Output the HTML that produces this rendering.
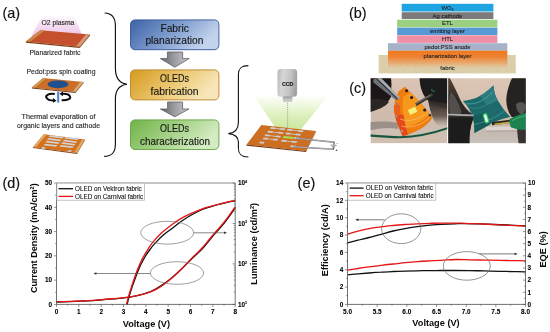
<!DOCTYPE html>
<html>
<head>
<meta charset="utf-8">
<title>OLEDs on fabric</title>
<style>
html,body{margin:0;padding:0;background:#fff;}
body{width:550px;height:332px;overflow:hidden;}
svg{display:block;}
text{font-family:"Liberation Sans",sans-serif;fill:#222;}
.lbl{font-size:14.4px;fill:#111;stroke:#111;stroke-width:0.15px;}
.sm{font-size:7px;fill:#262626;stroke:#262626;stroke-width:0.12px;}
.box{font-size:10px;fill:#161616;stroke:#161616;stroke-width:0.12px;}
.lay{font-size:5.9px;fill:#222;stroke:#222;stroke-width:0.1px;}
.tick{font-size:6.4px;font-weight:bold;fill:#000;stroke:#000;stroke-width:0.08px;}
.ax{font-size:9.2px;font-weight:bold;fill:#0a0a0a;}
.leg{font-size:6.3px;fill:#0c0c0c;stroke:#0c0c0c;stroke-width:0.08px;}
</style>
</head>
<body>
<svg width="550" height="332" viewBox="0 0 550 332">
<defs>
<linearGradient id="gBlue" x1="0" y1="0" x2="1" y2="0.35">
<stop offset="0" stop-color="#3c62a6"/><stop offset="0.55" stop-color="#7f9dcf"/><stop offset="1" stop-color="#c3d3ec"/>
</linearGradient>
<linearGradient id="gOr" x1="0" y1="0" x2="1" y2="0.35">
<stop offset="0" stop-color="#d59a1c"/><stop offset="0.55" stop-color="#ebc66f"/><stop offset="1" stop-color="#f8e6b8"/>
</linearGradient>
<linearGradient id="gGr" x1="0" y1="0" x2="1" y2="0.35">
<stop offset="0" stop-color="#6fb347"/><stop offset="0.55" stop-color="#a5d287"/><stop offset="1" stop-color="#d4ecc2"/>
</linearGradient>
<linearGradient id="gArr" x1="0" y1="0" x2="1" y2="0">
<stop offset="0" stop-color="#5e626a"/><stop offset="0.5" stop-color="#9c9ea2"/><stop offset="1" stop-color="#cbcbcd"/>
</linearGradient>
<linearGradient id="gPlasma" x1="0" y1="0" x2="0" y2="1">
<stop offset="0" stop-color="#f0c8ea" stop-opacity="0"/><stop offset="0.35" stop-color="#eec2e8" stop-opacity="0.5"/><stop offset="1" stop-color="#e6aede" stop-opacity="0.95"/>
</linearGradient>
<linearGradient id="gCone" x1="0" y1="0" x2="0" y2="1">
<stop offset="0" stop-color="#dcf0bc" stop-opacity="0"/><stop offset="0.12" stop-color="#dcf0bc" stop-opacity="0.3"/><stop offset="0.4" stop-color="#d6edb0" stop-opacity="0.85"/><stop offset="0.65" stop-color="#cde8a0" stop-opacity="1"/><stop offset="1" stop-color="#c8e69a" stop-opacity="1"/>
</linearGradient>
<linearGradient id="gCam" x1="0" y1="0" x2="1" y2="0.15">
<stop offset="0" stop-color="#b4b4b6"/><stop offset="0.3" stop-color="#d6d6d8"/><stop offset="0.7" stop-color="#c4c4c6"/><stop offset="1" stop-color="#a2a2a4"/>
</linearGradient>
<linearGradient id="gLens" x1="0" y1="0" x2="0" y2="1">
<stop offset="0" stop-color="#8e8e90"/><stop offset="0.35" stop-color="#b8b8ba"/><stop offset="1" stop-color="#d2d2d4"/>
</linearGradient>
<linearGradient id="gPlan" x1="0" y1="0" x2="0" y2="1">
<stop offset="0" stop-color="#f07a1e"/><stop offset="0.36" stop-color="#ee8232"/><stop offset="0.7" stop-color="#eba060" stop-opacity="0.75"/><stop offset="1" stop-color="#e7b98a" stop-opacity="0"/>
</linearGradient>
<filter id="blur1" x="-5%" y="-5%" width="110%" height="110%"><feGaussianBlur stdDeviation="0.6"/></filter>
<filter id="blur2" x="-5%" y="-5%" width="110%" height="110%"><feGaussianBlur stdDeviation="1.1"/></filter>
<clipPath id="cpL"><rect x="370.6" y="78.3" width="76.6" height="64.9"/></clipPath>
<clipPath id="cpR"><rect x="448.2" y="78.3" width="77.6" height="64.9"/></clipPath>
</defs>
<rect x="0" y="0" width="550" height="332" fill="#ffffff"/>

<!-- ================= PANEL A ================= -->
<g id="panelA">
<text class="lbl" x="2.5" y="18">(a)</text>

<!-- O2 plasma -->
<polygon points="42.3,15 73.7,15 82.6,36 29,41" fill="url(#gPlasma)"/>
<polygon points="25.9,41.6 40.3,30.3 90,34.6 79.8,46.8" fill="#c5502d"/>
<polygon points="25.9,41.6 40.3,30.3 44.3,30.65 29.9,41.95" fill="#c98a48"/>
<polygon points="86,34.25 90,34.6 79.8,46.8 75.8,46.45" fill="#d39a78"/>
<polygon points="25.9,41.6 79.8,46.8 79.8,48 25.9,42.8" fill="#7e3e14"/>
<polygon points="79.8,46.8 90,34.6 90,35.8 79.8,48" fill="#8e4e1e"/>
<text class="sm" x="57.9" y="25" text-anchor="middle" textLength="33" lengthAdjust="spacingAndGlyphs">O2 plasma</text>
<text class="sm" x="55" y="55.4" text-anchor="middle" textLength="51" lengthAdjust="spacingAndGlyphs">Planarized fabric</text>

<!-- spin coating -->
<text class="sm" x="61" y="74" text-anchor="middle" textLength="69" lengthAdjust="spacingAndGlyphs">Pedot:pss spin coating</text>
<polygon points="31.8,87.4 42.9,78.1 83.6,81.9 75.5,92" fill="#c96f28"/>
<polygon points="31.8,87.4 42.9,78.1 45.9,78.4 34.8,87.75" fill="#d39c58"/>
<polygon points="80.6,81.6 83.6,81.9 75.5,92 72.5,91.65" fill="#d9a878"/>
<polygon points="31.8,87.4 75.5,92 75.5,93 31.8,88.4" fill="#7a3a12"/>
<polygon points="75.5,92 83.6,81.9 83.6,82.9 75.5,93" fill="#8a4a1a"/>
<ellipse cx="58" cy="84.3" rx="10.4" ry="3.9" fill="#1f4f8c"/>
<rect x="57.2" y="91.6" width="2" height="11" fill="#4a80d8"/>
<path d="M54.8,94 C47.6,93.2 45.4,95.8 46.4,97.6 C47.4,99.6 50.6,100.6 53.6,100.6" fill="none" stroke="#0c0c0c" stroke-width="2"/>
<polygon points="53,98 56.6,100.8 53,102.8" fill="#0c0c0c"/>
<path d="M61.6,100.2 C68.6,100.4 71,98.4 70,96.4 C69,94.4 65.4,93.6 62.2,93.8" fill="none" stroke="#0c0c0c" stroke-width="2"/>
<polygon points="63,91.4 59.4,93.8 63,96.2" fill="#0c0c0c"/>

<!-- thermal evaporation -->
<text class="sm" x="58.5" y="118.8" text-anchor="middle" textLength="74" lengthAdjust="spacingAndGlyphs">Thermal evaporation of</text>
<text class="sm" x="58.5" y="128.2" text-anchor="middle" textLength="83" lengthAdjust="spacingAndGlyphs">organic layers and cathode</text>
<polygon points="33.1,146.9 43.8,134.3 84.9,139.6 77,153.1" fill="#d4721c"/>
<polygon points="33.1,146.9 43.8,134.3 46.6,134.7 35.9,147.3" fill="#dfa868"/>
<polygon points="82.1,139.2 84.9,139.6 77,153.1 74.2,152.7" fill="#dfa868"/>
<polygon points="33.1,146.9 77,153.1 77,154.1 33.1,147.9" fill="#8a4614"/>
<polygon points="77,153.1 84.9,139.6 84.9,140.6 77,154.1" fill="#9a5a20"/>
<g fill="#d2d2d6">
<polygon points="50.1,135.2 63.7,136.9 62.3,138.4 48.7,136.7"/>
<polygon points="48.4,138.0 61.4,139.7 60.0,141.2 47.0,139.5"/>
<polygon points="46.7,140.8 59.7,142.5 58.3,144.0 45.3,142.3"/>
<polygon points="45.0,143.7 57.4,145.2 56.0,146.7 43.6,145.2"/>
<polygon points="42.2,147.0 45.6,147.5 44.2,149.0 40.8,148.5"/>
<polygon points="65.9,136.9 78.9,138.6 77.5,140.1 64.5,138.4"/>
<polygon points="64.2,139.7 77.2,141.4 75.8,142.9 62.8,141.2"/>
<polygon points="62.5,142.3 75.5,144.0 74.1,145.5 61.1,143.8"/>
<polygon points="60.8,144.9 73.8,146.6 72.4,148.1 59.4,146.4"/>
<polygon points="68.7,149.9 72.1,150.4 70.7,151.9 67.3,151.4"/>
</g>

<!-- left brace -->
<path d="M104.7,13 C112,13.2 115.4,17 115.4,26 L115.4,68 C115.4,77.5 119,83.2 127,84.2 C119,85.2 115.4,90 115.4,99 L115.4,144 C115.4,152.6 112,156.2 104.2,156.4" fill="none" stroke="#111" stroke-width="1.15"/>

<!-- flow boxes -->
<rect x="130.5" y="19.9" width="88.4" height="29.8" rx="4.5" fill="url(#gBlue)" stroke="#33559a" stroke-width="0.9"/>
<text class="box" x="174.6" y="31.8" text-anchor="middle" textLength="28.4" lengthAdjust="spacingAndGlyphs">Fabric</text>
<text class="box" x="174.4" y="44.2" text-anchor="middle" textLength="58" lengthAdjust="spacingAndGlyphs">planarization</text>
<polygon points="167.4,52 182.6,52 182.6,58.6 189.2,58.6 174.8,67.2 160.4,58.6 167.4,58.6" fill="url(#gArr)" stroke="#4e5056" stroke-width="0.7"/>
<rect x="130.5" y="69.9" width="88.4" height="30" rx="4.5" fill="url(#gOr)" stroke="#b9822a" stroke-width="0.9"/>
<text class="box" x="174.4" y="81.8" text-anchor="middle" textLength="29" lengthAdjust="spacingAndGlyphs">OLEDs</text>
<text class="box" x="174.6" y="94.6" text-anchor="middle" textLength="48" lengthAdjust="spacingAndGlyphs">fabrication</text>
<polygon points="167.6,102 182.6,102 182.6,109 189,109 174.8,116.8 160.4,109 167.6,109" fill="url(#gArr)" stroke="#4e5056" stroke-width="0.7"/>
<rect x="130.5" y="119.9" width="88.4" height="29.6" rx="4.5" fill="url(#gGr)" stroke="#62a042" stroke-width="0.9"/>
<text class="box" x="174.4" y="131.8" text-anchor="middle" textLength="29" lengthAdjust="spacingAndGlyphs">OLEDs</text>
<text class="box" x="175" y="144.6" text-anchor="middle" textLength="70" lengthAdjust="spacingAndGlyphs">characterization</text>

<!-- right brace -->
<path d="M248.4,65.6 C241.5,65.6 238.4,68 238.4,75 L238.4,122 C238.4,129 235,133 228.4,133.6 C235,134.2 238.4,137.4 238.4,142 L238.4,148 C238.4,154.6 241.5,157 248.4,157" fill="none" stroke="#111" stroke-width="1.1"/>

<!-- CCD setup -->
<polygon points="253.5,95 328.5,95 287.6,146" fill="url(#gCone)"/>
<rect x="277.5" y="68.9" width="19.6" height="27.8" rx="3.2" fill="url(#gCam)"/>
<rect x="282.8" y="96.4" width="9.6" height="5.6" rx="0.8" fill="url(#gLens)"/>
<text x="287.7" y="85.5" text-anchor="middle" style="font-size:5.3px;font-weight:bold;fill:#1a1a1a;stroke:#1a1a1a;stroke-width:0.15px">CCD</text>
<line x1="287.6" y1="102.6" x2="287.6" y2="129" stroke="#8e8e8e" stroke-width="0.8" stroke-dasharray="1.1,1.1"/>
<polygon points="246.5,144.5 261.4,125.1 315.9,130.9 306,150.9" fill="#cc6f22"/>
<polygon points="246.5,144.5 306,150.9 306,152.1 246.5,145.7" fill="#7a3a12"/>
<polygon points="306,150.9 315.9,130.9 315.9,132.1 306,152.1" fill="#8a4a1a"/>
<g fill="#cdcdd2">
<polygon points="270.9,127.1 275.6,127.6 274.7,129.3 270.1,128.8"/><polygon points="275.1,128.0 280.8,128.6 280.4,129.4 274.7,128.8"/><polygon points="280.8,128.1 285.4,128.6 284.6,130.3 279.9,129.8"/>
<polygon points="287.6,128.8 292.7,129.3 291.9,131.0 286.8,130.5"/><polygon points="292.2,129.8 298.6,130.4 298.2,131.2 291.8,130.6"/><polygon points="298.5,130.0 303.6,130.5 302.8,132.2 297.7,131.7"/>
<polygon points="268.1,130.7 273.1,131.3 272.2,133.0 267.3,132.4"/><polygon points="272.5,131.7 278.8,132.3 278.4,133.1 272.1,132.5"/><polygon points="278.7,131.8 283.6,132.4 282.8,134.1 277.8,133.5"/>
<polygon points="286.3,132.6 291.0,133.1 290.1,134.8 285.5,134.3"/><polygon points="290.5,133.5 296.3,134.1 295.9,134.9 290.1,134.3"/><polygon points="296.3,133.6 300.9,134.1 300.1,135.8 295.4,135.3"/>
<polygon points="265.4,134.3 270.4,134.9 269.5,136.6 264.6,136.0"/><polygon points="269.8,135.3 276.1,135.9 275.7,136.7 269.4,136.1"/><polygon points="276.0,135.4 280.9,136.0 280.1,137.7 275.1,137.1"/>
<polygon points="263.6,137.5 268.3,138.0 267.4,139.7 262.8,139.2"/><polygon points="267.8,138.4 273.5,139.0 273.1,139.8 267.4,139.2"/><polygon points="273.5,138.5 278.1,139.0 277.3,140.7 272.6,140.2"/>
<polygon points="281.8,139.7 286.8,140.3 285.9,142.0 281.0,141.4"/><polygon points="286.2,140.7 292.4,141.3 292.0,142.1 285.8,141.5"/><polygon points="292.3,140.8 297.2,141.4 296.4,143.1 291.4,142.5"/>
<polygon points="259.9,141.6 264.5,142.1 263.7,143.8 259.1,143.3"/>
<polygon points="290.9,145.3 296.3,145.8 295.5,147.5 290.1,147.0"/>
<polygon points="294.4,137.1 299.0,137.6 298.2,139.3 293.6,138.8"/>
</g>
<polygon points="283.8,135.9 293.9,136.9 292.8,139.1 282.6,138.1" fill="#a6e052"/>
<path d="M296,138.2 L334.1,142.2 L333.4,149.2 L292.8,146.7" fill="none" stroke="#74747a" stroke-width="1.5"/>
<path d="M296,138.2 L334.1,142.2 M333.4,149.2 L292.8,146.7" fill="none" stroke="#d4d4da" stroke-width="0.6"/>
<rect x="331" y="144.6" width="5.4" height="2.4" fill="#fff"/>
<path d="M330.6,145 L336.6,145.4 M331.8,146.6 L335.2,146.8" fill="none" stroke="#444" stroke-width="0.6"/>
<text x="336.4" y="144.2" style="font-size:3.4px;font-weight:bold;fill:#222">-</text>
<text x="335.4" y="151" style="font-size:3.8px;font-weight:bold;fill:#222">+</text>
</g>

<g id="panelB">
<text class="lbl" x="349" y="17.7">(b)</text>
<filter id="noise" x="0" y="0" width="100%" height="100%">
<feTurbulence type="fractalNoise" baseFrequency="0.9" numOctaves="2" seed="3" result="n"/>
<feColorMatrix in="n" type="matrix" values="0 0 0 0 0.45  0 0 0 0 0.38  0 0 0 0 0.25  0 0 0 1.6 -0.75"/>
<feComposite operator="in" in2="SourceGraphic"/>
</filter>
<rect x="378.7" y="55" width="137" height="18.4" fill="#ddd0ab"/>
<rect x="378.7" y="55" width="137" height="18.4" fill="#ddd0ab" filter="url(#noise)" opacity="0.55"/>
<rect x="388" y="50.3" width="119.3" height="18.6" fill="url(#gPlan)"/>
<rect x="401.7" y="3.8" width="91.7" height="7.7" fill="#1da4e1"/>
<rect x="401.7" y="12.2" width="91.7" height="6.8" fill="#7c7a7a"/>
<rect x="397.2" y="19.7" width="100.2" height="7.7" fill="#9bd083"/>
<rect x="397.2" y="27.7" width="100.2" height="7.3" fill="#5798d6"/>
<rect x="397.2" y="35.3" width="100.2" height="7.6" fill="#ef8fa6"/>
<rect x="388" y="43.2" width="119.3" height="7.3" fill="#a6b2ca"/>
<text class="lay" x="447.5" y="9.6" text-anchor="middle">WO<tspan font-size="3.6" dy="1">3</tspan></text>
<text class="lay" x="447.5" y="17.6" text-anchor="middle">Ag cathode</text>
<text class="lay" x="447.5" y="25.3" text-anchor="middle">ETL</text>
<text class="lay" x="447.5" y="33.2" text-anchor="middle">emitting layer</text>
<text class="lay" x="447.5" y="41" text-anchor="middle">HTL</text>
<text class="lay" x="447.5" y="48.8" text-anchor="middle">pedot:PSS anode</text>
<text class="lay" x="447.5" y="57.6" text-anchor="middle">planarization layer</text>
<text class="lay" x="447.5" y="70.2" text-anchor="middle">fabric</text>
</g>

<g id="panelC">
<text class="lbl" x="349.2" y="92.7">(c)</text>
<linearGradient id="gBgL" x1="0" y1="0" x2="0" y2="1">
<stop offset="0" stop-color="#dcc4b4"/><stop offset="0.55" stop-color="#cfbaab"/><stop offset="0.8" stop-color="#cdbfb4"/><stop offset="1" stop-color="#d2bfae"/>
</linearGradient>
<linearGradient id="gBgR" x1="0" y1="0" x2="0" y2="1">
<stop offset="0" stop-color="#dec6b6"/><stop offset="0.6" stop-color="#d0bbac"/><stop offset="0.85" stop-color="#c4bab2"/><stop offset="1" stop-color="#c8c2bc"/>
</linearGradient>
<!-- left photo -->
<g clip-path="url(#cpL)">
<rect x="370.4" y="78" width="77" height="65.4" fill="url(#gBgL)"/>
<g filter="url(#blur1)">
<path d="M368,122.5 C380,121 392,121.5 398,123 L398,129 C388,127 378,128.5 368,131 Z" fill="#8d8580" opacity="0.8"/>
<path d="M368,76 L390.4,76 C392.6,84 390.6,91 391,97 C387,105 378,110 368,112.5 Z" fill="#1b1918"/>
<path d="M368,100 C376,98 384,99 389,102 C385,107 378,110 368,112 Z" fill="#2c2826"/>
<path d="M419.6,76 L450,76 L450,109 C441,108.6 432,105 426.6,99 C421.6,93 419.4,85 419.6,76 Z" fill="#1d1b1a"/>
<linearGradient id="gShd" x1="0" y1="0" x2="0" y2="1"><stop offset="0" stop-color="#2a2422"/><stop offset="0.6" stop-color="#5a4c44" stop-opacity="0.85"/><stop offset="1" stop-color="#8a7a70" stop-opacity="0"/></linearGradient>
<path d="M428,100 L450,104 L450,127 L438,126 C434,122 431,116 428,100 Z" fill="url(#gShd)"/>
<path d="M431,89.6 L434.6,91.6" stroke="#1a6a50" stroke-width="1.6"/>
<path d="M368,135.4 C380,136.4 392,137.2 400,137.2 C415,137 432,133.6 450,127.4" fill="none" stroke="#18553f" stroke-width="2.1"/>
<path d="M398.4,91.4 L404.8,86.8 C414,95 424,106 432.4,117.3 C430,123.4 420,131.4 402.8,136.3 C399,128 396,121 395.2,116.1 C393.8,110 393.8,106 394.2,105.5 C395,100 396.4,95 398.4,91.4 Z" fill="#ef7d10"/>
<path d="M403,97 L410,92.6 C417,99 423,106 429,114.6 C425,120 416,124.4 406,127.2 C403,118 402,107 403,97 Z" fill="#f6981c"/>
<path d="M395.2,116.1 C398,114.5 401,114 403.5,115 C404.5,122 406,129 408,134.6 L402.8,136.3 C399,128 396,121 395.2,116.1 Z" fill="#e24a1a"/>
<path d="M394.2,105.5 C396,104 398,104 400,105.5 C400,109 400,112 400.5,114.5 C398.5,114.4 396.6,115 395.2,116.1 C393.8,110 393.8,106 394.2,105.5 Z" fill="#e8601a"/>
<path d="M400,119 C409,122.5 420,119.5 429,111.5" fill="none" stroke="#f9b868" stroke-width="0.8"/>
<path d="M401.5,126 C411,129 423,125 431.4,116" fill="none" stroke="#f9b868" stroke-width="0.8"/>
<polygon points="373.4,79.4 376.4,78.2 398,98.6 396.4,100.4 373.4,82.4" fill="#6c727a"/>
<polygon points="377,78.2 381.4,78.2 400,97.2 398.4,99" fill="#a6aab0"/>
<path d="M376.4,78.8 L397.8,99" stroke="#1e1e1e" stroke-width="1"/>
<path d="M432.4,94.4 L415.8,104.4" stroke="#45453c" stroke-width="2.4"/>
<path d="M432.8,95.8 L416.4,105.6" stroke="#26261f" stroke-width="0.9"/>
<path d="M430,95 L416,103.4" stroke="#9a9a8c" stroke-width="0.6"/>
<circle cx="406.6" cy="90.8" r="1.5" fill="#1c1c1c"/><circle cx="411.6" cy="97.6" r="1.6" fill="#1c1c1c"/>
<circle cx="424.6" cy="110" r="1.5" fill="#1c1c1c"/><circle cx="430" cy="115.2" r="1.3" fill="#333"/>
<circle cx="397" cy="104" r="1" fill="#8a8a8a"/><circle cx="396.6" cy="116.6" r="1" fill="#9a9a9a"/><circle cx="402" cy="131" r="1.1" fill="#aaa"/>
<rect x="408.6" y="108" width="8" height="5.6" rx="0.8" fill="#f2f07a" transform="rotate(-26 412.6 110.8)"/>
</g>
</g>
<!-- right photo -->
<g clip-path="url(#cpR)">
<rect x="448.4" y="78" width="78" height="65.4" fill="url(#gBgR)"/>
<g filter="url(#blur1)">
<path d="M486,126.8 L519.6,126.4 L519.6,130.4 L486,130.8 Z" fill="#ddd5d0"/>
<path d="M486,131.2 L519.6,130.8" stroke="#a39a94" stroke-width="0.9"/>
<linearGradient id="gCone2" x1="0" y1="0" x2="0" y2="1"><stop offset="0" stop-color="#5a463a"/><stop offset="0.35" stop-color="#2f2a27"/><stop offset="1" stop-color="#232120"/></linearGradient>
<path d="M446,76 L448.4,76 C452,82 455.4,88.6 458.4,95.6 C461.6,103.6 466,110 473.6,115 L473.6,118.4 C471,124 468.6,132 469.6,146 L446,146 Z" fill="url(#gCone2)"/>
<path d="M451,92 C455,96 458.6,103 461,110 C462,113 461,114.4 458,114.4 L450,114 C448.6,108 448.6,98 451,92 Z" fill="#5c5856" opacity="0.8"/>
<path d="M446,118.6 C456,117.6 466,117.6 473,118.6 C470.6,126 469,134 469.6,146 L446,146 Z" fill="#1d1b1a"/>
<path d="M513,76 L530,76 L530,118.6 L511.6,117 C507,110.6 505.6,103 506.6,96 C507.6,89 509.8,82 513,76 Z" fill="#252322"/>
<path d="M516,104 C519,101.6 523,101.6 525,104 C526,108 525,112.6 522,114.6 C518,113.6 516,109 516,104 Z" fill="#6a6664" opacity="0.75"/>
<path d="M517,128 L530,129 L530,146 L519,146 C518,140 517.4,134 517,128 Z" fill="#373331"/>
<path d="M493.5,85.5 C494,92 495.4,96.6 497.7,100.3 C501,106 505.6,112 510.3,117.1 C503,118.6 496.6,120.6 491.4,123.5 C485,127 479.6,130 474.5,133 C474.6,127 474,121.6 472.4,116.1 C470.6,110.6 467.4,105.4 462.9,100.9 C469,100.4 474.6,98.8 479.8,96 C485,93 489.6,89.4 493.5,85.5 Z" fill="#1d6a6c"/>
<path d="M493.5,85.5 C494,92 495.4,96.6 497.7,100.3 C494,103 490,104.6 486,105 C484.6,101.6 482.6,98.6 479.8,96 C485,93 489.6,89.4 493.5,85.5 Z" fill="#2c7c7e"/>
<path d="M472.4,116.1 C477,115.4 481,114.2 484.6,112.4 C486,118 487.6,122 490,124.4 C485,127 479.6,130 474.5,133 C474.6,127 474,121.6 472.4,116.1 Z" fill="#155c5a"/>
<path d="M466,103.6 C474,105 484,101.6 492.6,92" fill="none" stroke="#5aaaa4" stroke-width="0.7"/>
<path d="M474,124.6 C486,122 498,116.6 505,110.6" fill="none" stroke="#4d9c98" stroke-width="0.7"/>
<path d="M470,108 C478,109.6 488,106 496,98" fill="none" stroke="#3f908c" stroke-width="0.6"/>
<path d="M448,114.6 L473.6,115.4" stroke="#b0aeac" stroke-width="1.7"/>
<path d="M448,116.2 L473,116.9" stroke="#363432" stroke-width="0.8"/>
<path d="M492,123.6 L510.6,121.4" stroke="#2a2620" stroke-width="3.2"/>
<path d="M494.6,124.2 L510.6,122.4" stroke="#c8ae48" stroke-width="1.6"/>
<path d="M509.6,119 C512,117.4 516,115.6 520,114.4 L530,111.8 L530,130 L518,129.6 L511.2,127.6 C509.6,125 509.2,122 509.6,119 Z" fill="#1d8250"/>
<path d="M512,120.6 C517,118 523,116 530,114.6" fill="none" stroke="#4cae74" stroke-width="1"/>
<rect x="483.6" y="113" width="4.8" height="10.6" rx="2.2" fill="#36d062" opacity="0.85" transform="rotate(-17 486 118.3)"/>
<rect x="484.8" y="114.4" width="2.4" height="7.8" rx="1.2" fill="#f0fff0" transform="rotate(-17 486 118.3)"/>
</g>
</g>
</g>

<g id="panelD">
<text class="lbl" x="2.5" y="188">(d)</text>
<line x1="56.5" y1="183.0" x2="235.2" y2="183.0" stroke="#8c8c8c" stroke-width="1.1"/>
<path d="M56.5,302.0 C60.4,301.9 72.8,301.5 80.0,301.2 C87.2,300.9 94.2,300.4 100.0,300.0 C105.8,299.6 110.3,299.2 115.0,298.8 C119.7,298.4 124.4,297.9 128.1,297.4 C131.8,296.9 134.1,296.4 137.1,295.7 C140.1,295.0 143.1,294.3 146.1,293.2 C149.1,292.1 152.2,290.8 155.2,289.2 C158.2,287.6 161.2,285.7 164.2,283.6 C167.2,281.5 170.3,279.0 173.3,276.4 C176.3,273.8 179.3,271.1 182.3,268.2 C185.3,265.3 188.2,262.1 191.3,259.2 C194.4,256.3 198.0,253.2 200.6,250.6 C203.2,248.0 204.6,246.2 206.8,243.6 C209.0,241.0 211.6,237.6 213.6,235.2 C215.6,232.8 217.2,231.3 219.0,229.2 C220.8,227.1 222.7,225.1 224.5,222.8 C226.3,220.5 228.0,218.1 229.8,215.6 C231.6,213.1 234.3,208.9 235.2,207.6" fill="none" stroke="#111" stroke-width="1.3"/>
<path d="M56.5,301.8 C60.4,301.7 72.8,301.3 80.0,301.0 C87.2,300.7 94.2,300.2 100.0,299.8 C105.8,299.4 110.3,299.0 115.0,298.6 C119.7,298.2 124.4,297.7 128.1,297.2 C131.8,296.7 134.1,296.2 137.1,295.6 C140.1,295.0 143.1,294.4 146.1,293.4 C149.1,292.4 152.2,291.3 155.2,289.8 C158.2,288.3 161.2,286.4 164.2,284.2 C167.2,282.0 170.3,279.5 173.3,276.8 C176.3,274.1 179.3,271.2 182.3,268.2 C185.3,265.2 188.3,261.7 191.3,258.6 C194.3,255.5 197.9,252.4 200.4,249.8 C202.9,247.2 204.4,245.4 206.5,242.9 C208.6,240.4 211.2,237.0 213.2,234.6 C215.2,232.2 216.8,230.7 218.6,228.6 C220.4,226.5 222.3,224.4 224.1,222.2 C225.9,219.9 227.6,217.6 229.4,215.1 C231.2,212.6 234.2,208.3 235.2,206.9" fill="none" stroke="#e81313" stroke-width="1.3"/>
<path d="M127.2,304.3 C127.5,303.2 127.9,300.8 128.8,297.6 C129.7,294.5 131.1,289.9 132.7,285.4 C134.3,280.9 136.4,274.8 138.2,270.4 C140.0,266.0 141.7,262.6 143.6,259.2 C145.5,255.8 147.7,252.6 149.6,250.0 C151.5,247.4 152.6,245.9 154.9,243.4 C157.2,240.9 160.6,237.4 163.6,234.8 C166.6,232.2 169.7,230.2 172.7,227.9 C175.7,225.6 178.8,223.1 181.8,221.0 C184.8,218.9 187.3,217.2 190.9,215.2 C194.5,213.2 199.3,210.7 203.6,209.0 C207.8,207.3 212.7,206.1 216.4,205.0 C220.1,203.9 222.9,203.3 226.0,202.6 C229.1,201.9 233.7,201.1 235.2,200.8" fill="none" stroke="#111" stroke-width="1.3"/>
<path d="M126.6,304.3 C126.9,303.2 127.3,300.8 128.2,297.6 C129.1,294.4 130.5,289.8 132.0,285.2 C133.5,280.6 135.6,274.5 137.3,270.0 C139.1,265.5 140.7,261.9 142.5,258.4 C144.3,254.9 146.4,251.6 148.2,248.8 C150.0,246.0 150.9,244.4 153.1,241.8 C155.3,239.2 158.5,235.7 161.4,233.0 C164.3,230.3 167.4,228.1 170.4,225.8 C173.4,223.5 176.4,221.3 179.6,219.4 C182.8,217.5 185.7,216.0 189.6,214.2 C193.5,212.4 198.5,210.2 203.0,208.6 C207.5,207.0 212.6,205.8 216.4,204.8 C220.2,203.8 222.9,203.1 226.0,202.4 C229.1,201.7 233.7,200.9 235.2,200.6" fill="none" stroke="#e81313" stroke-width="1.3"/>
<path d="M56.5,183.0 L56.5,304.4 L235.2,304.4 L235.2,183.0" fill="none" stroke="#4d4d4d" stroke-width="0.8"/>
<path d="M56.5,304.4 v2.6 M67.7,304.4 v1.4 M78.8,304.4 v2.6 M90.0,304.4 v1.4 M101.2,304.4 v2.6 M112.3,304.4 v1.4 M123.5,304.4 v2.6 M134.7,304.4 v1.4 M145.8,304.4 v2.6 M157.0,304.4 v1.4 M168.2,304.4 v2.6 M179.4,304.4 v1.4 M190.5,304.4 v2.6 M201.7,304.4 v1.4 M212.9,304.4 v2.6 M224.0,304.4 v1.4 M235.2,304.4 v2.6 M56.5,304.4 h-2.6 M56.5,292.3 h-1.4 M56.5,280.1 h-2.6 M56.5,268.0 h-1.4 M56.5,255.8 h-2.6 M56.5,243.7 h-1.4 M56.5,231.6 h-2.6 M56.5,219.4 h-1.4 M56.5,207.3 h-2.6 M56.5,195.1 h-1.4 M56.5,183.0 h-2.6 M235.2,304.4 h-2.6 M235.2,292.2 h-1.4 M235.2,285.1 h-1.4 M235.2,280.0 h-1.4 M235.2,276.1 h-1.4 M235.2,272.9 h-1.4 M235.2,270.2 h-1.4 M235.2,267.9 h-1.4 M235.2,265.8 h-1.4 M235.2,263.9 h-2.6 M235.2,251.8 h-1.4 M235.2,244.6 h-1.4 M235.2,239.6 h-1.4 M235.2,235.6 h-1.4 M235.2,232.4 h-1.4 M235.2,229.7 h-1.4 M235.2,227.4 h-1.4 M235.2,225.3 h-1.4 M235.2,223.5 h-2.6 M235.2,211.3 h-1.4 M235.2,204.2 h-1.4 M235.2,199.1 h-1.4 M235.2,195.2 h-1.4 M235.2,192.0 h-1.4 M235.2,189.3 h-1.4 M235.2,186.9 h-1.4 M235.2,184.9 h-1.4 M235.2,183.0 h-2.6" fill="none" stroke="#4d4d4d" stroke-width="0.6"/>
<text class="tick" x="56.5" y="313.5" text-anchor="middle">0</text>
<text class="tick" x="78.8" y="313.5" text-anchor="middle">1</text>
<text class="tick" x="101.2" y="313.5" text-anchor="middle">2</text>
<text class="tick" x="123.5" y="313.5" text-anchor="middle">3</text>
<text class="tick" x="145.8" y="313.5" text-anchor="middle">4</text>
<text class="tick" x="168.2" y="313.5" text-anchor="middle">5</text>
<text class="tick" x="190.5" y="313.5" text-anchor="middle">6</text>
<text class="tick" x="212.9" y="313.5" text-anchor="middle">7</text>
<text class="tick" x="235.2" y="313.5" text-anchor="middle">8</text>
<text class="tick" x="52.1" y="306.6" text-anchor="end">0</text>
<text class="tick" x="52.1" y="282.3" text-anchor="end">10</text>
<text class="tick" x="52.1" y="258.0" text-anchor="end">20</text>
<text class="tick" x="52.1" y="233.8" text-anchor="end">30</text>
<text class="tick" x="52.1" y="209.5" text-anchor="end">40</text>
<text class="tick" x="52.1" y="185.2" text-anchor="end">50</text>
<text class="tick" x="237.9" y="306.6">10<tspan font-size="3.7" dy="-2.6">1</tspan></text>
<text class="tick" x="237.9" y="266.1">10<tspan font-size="3.7" dy="-2.6">2</tspan></text>
<text class="tick" x="237.9" y="225.7">10<tspan font-size="3.7" dy="-2.6">3</tspan></text>
<text class="tick" x="237.9" y="185.2">10<tspan font-size="3.7" dy="-2.6">4</tspan></text>
<text class="ax" x="146.4" y="326.6" text-anchor="middle">Voltage (V)</text>
<text class="ax" transform="translate(36.9,238.2) rotate(-90)" text-anchor="middle" style="font-size:9.05px">Current Density (mA/cm<tspan font-size="5.6" dy="-3.2">2</tspan><tspan dy="3.2">)</tspan></text>
<text class="ax" transform="translate(257.3,243.8) rotate(-90)" text-anchor="middle">Luminance (cd/m<tspan font-size="5.6" dy="-3.2">2</tspan><tspan dy="3.2">)</tspan></text>
<rect x="56.9" y="183.2" width="87.6" height="17" fill="#fff" stroke="#b4b4b4" stroke-width="0.8"/>
<line x1="58.5" y1="188.7" x2="73.1" y2="188.7" stroke="#111" stroke-width="1.3"/>
<line x1="58.5" y1="196.4" x2="73.1" y2="196.4" stroke="#e81313" stroke-width="1.3"/>
<text class="leg" x="75" y="190.9" textLength="66.8" lengthAdjust="spacingAndGlyphs">OLED on Vektron fabric</text>
<text class="leg" x="75" y="198.5" textLength="68.2" lengthAdjust="spacingAndGlyphs">OLED on Carnival fabric</text>
<ellipse cx="167.2" cy="232.7" rx="26.4" ry="11.4" fill="none" stroke="#777" stroke-width="0.7"/>
<ellipse cx="177" cy="273" rx="26.6" ry="11.3" fill="none" stroke="#777" stroke-width="0.7"/>
<path d="M193.6,232.8 L225,232.8" stroke="#555" stroke-width="0.7"/><polygon points="224,231.6 227,232.8 224,234" fill="#333"/>
<path d="M150.4,273.5 L95,273.5" stroke="#555" stroke-width="0.7"/><polygon points="96.4,272.3 93.4,273.5 96.4,274.7" fill="#333"/>
</g>

<g id="panelE">
<text class="lbl" x="297.6" y="188">(e)</text>
<line x1="347.5" y1="183.0" x2="525.5" y2="183.0" stroke="#8c8c8c" stroke-width="1.1"/>
<path d="M347.5,242.8 C349.2,242.4 354.4,241.1 358.0,240.2 C361.6,239.3 365.3,238.5 369.1,237.5 C372.9,236.5 377.0,235.5 381.0,234.4 C385.0,233.3 389.2,232.0 393.2,231.0 C397.2,230.0 401.0,229.3 405.0,228.6 C409.0,227.9 413.1,227.3 417.3,226.7 C421.5,226.1 426.0,225.6 430.0,225.2 C434.0,224.8 437.2,224.5 441.4,224.3 C445.6,224.1 451.1,223.9 455.0,223.8 C458.9,223.7 460.8,223.6 465.0,223.6 C469.2,223.6 475.0,223.8 480.0,223.9 C485.0,224.1 490.0,224.3 495.0,224.5 C500.0,224.7 504.9,224.9 510.0,225.2 C515.1,225.4 522.9,225.9 525.5,226.0" fill="none" stroke="#111" stroke-width="1.3"/>
<path d="M347.5,234.2 C349.2,233.7 354.4,232.1 358.0,231.2 C361.6,230.3 365.3,229.3 369.1,228.6 C372.9,227.9 377.0,227.3 381.0,226.8 C385.0,226.3 389.2,225.9 393.2,225.5 C397.2,225.1 401.0,224.8 405.0,224.5 C409.0,224.2 413.1,224.0 417.3,223.8 C421.5,223.6 426.0,223.4 430.0,223.3 C434.0,223.2 437.2,223.1 441.4,223.1 C445.6,223.1 451.1,223.1 455.0,223.1 C458.9,223.1 460.8,223.2 465.0,223.3 C469.2,223.4 475.0,223.7 480.0,223.9 C485.0,224.1 490.0,224.4 495.0,224.6 C500.0,224.8 504.9,225.1 510.0,225.3 C515.1,225.5 522.9,225.9 525.5,226.0" fill="none" stroke="#e81313" stroke-width="1.3"/>
<path d="M347.5,274.9 C349.2,274.7 354.4,274.2 358.0,273.9 C361.6,273.6 365.3,273.3 369.1,273.0 C372.9,272.7 377.0,272.4 381.0,272.2 C385.0,271.9 389.2,271.7 393.2,271.5 C397.2,271.3 401.0,271.2 405.0,271.1 C409.0,271.0 413.1,270.9 417.3,270.8 C421.5,270.7 426.0,270.7 430.0,270.6 C434.0,270.6 437.2,270.5 441.4,270.5 C445.6,270.5 450.2,270.5 455.0,270.5 C459.8,270.5 465.0,270.5 470.0,270.6 C475.0,270.7 480.0,270.8 485.0,270.9 C490.0,271.0 495.5,271.2 500.0,271.3 C504.5,271.4 507.8,271.5 512.0,271.6 C516.2,271.7 523.2,271.8 525.5,271.9" fill="none" stroke="#111" stroke-width="1.3"/>
<path d="M347.5,270.2 C349.2,269.9 354.4,269.1 358.0,268.5 C361.6,267.9 365.3,267.4 369.1,266.9 C372.9,266.4 377.0,265.9 381.0,265.4 C385.0,264.9 389.2,264.4 393.2,264.0 C397.2,263.6 401.0,263.1 405.0,262.7 C409.0,262.3 413.1,261.9 417.3,261.6 C421.5,261.3 426.0,261.1 430.0,260.9 C434.0,260.7 437.1,260.5 441.4,260.3 C445.7,260.1 450.9,259.6 455.7,259.5 C460.5,259.4 465.1,259.7 470.0,259.8 C474.9,259.9 480.0,260.0 485.0,260.1 C490.0,260.2 495.5,260.3 500.0,260.4 C504.5,260.5 507.8,260.5 512.0,260.6 C516.2,260.7 523.2,260.8 525.5,260.8" fill="none" stroke="#e81313" stroke-width="1.3"/>
<path d="M347.5,183.0 L347.5,304.4 L525.5,304.4 L525.5,183.0" fill="none" stroke="#4d4d4d" stroke-width="0.8"/>
<path d="M347.5,304.4 v2.6 M362.3,304.4 v1.4 M377.2,304.4 v2.6 M392.0,304.4 v1.4 M406.8,304.4 v2.6 M421.7,304.4 v1.4 M436.5,304.4 v2.6 M451.3,304.4 v1.4 M466.2,304.4 v2.6 M481.0,304.4 v1.4 M495.8,304.4 v2.6 M510.7,304.4 v1.4 M525.5,304.4 v2.6 M347.5,304.4 h-2.6 M347.5,295.7 h-1.4 M347.5,287.1 h-2.6 M347.5,278.4 h-1.4 M347.5,269.7 h-2.6 M347.5,261.0 h-1.4 M347.5,252.4 h-2.6 M347.5,243.7 h-1.4 M347.5,235.0 h-2.6 M347.5,226.4 h-1.4 M347.5,217.7 h-2.6 M347.5,209.0 h-1.4 M347.5,200.3 h-2.6 M347.5,191.7 h-1.4 M347.5,183.0 h-2.6 M525.5,304.4 h-2.6 M525.5,298.3 h-1.4 M525.5,292.3 h-2.6 M525.5,286.2 h-1.4 M525.5,280.1 h-2.6 M525.5,274.0 h-1.4 M525.5,268.0 h-2.6 M525.5,261.9 h-1.4 M525.5,255.8 h-2.6 M525.5,249.8 h-1.4 M525.5,243.7 h-2.6 M525.5,237.6 h-1.4 M525.5,231.6 h-2.6 M525.5,225.5 h-1.4 M525.5,219.4 h-2.6 M525.5,213.3 h-1.4 M525.5,207.3 h-2.6 M525.5,201.2 h-1.4 M525.5,195.1 h-2.6 M525.5,189.1 h-1.4 M525.5,183.0 h-2.6" fill="none" stroke="#4d4d4d" stroke-width="0.6"/>
<text class="tick" x="347.5" y="313.6" text-anchor="middle">5.0</text>
<text class="tick" x="377.2" y="313.6" text-anchor="middle">5.5</text>
<text class="tick" x="406.8" y="313.6" text-anchor="middle">6.0</text>
<text class="tick" x="436.5" y="313.6" text-anchor="middle">6.5</text>
<text class="tick" x="466.2" y="313.6" text-anchor="middle">7.0</text>
<text class="tick" x="495.8" y="313.6" text-anchor="middle">7.5</text>
<text class="tick" x="525.5" y="313.6" text-anchor="middle">8.0</text>
<text class="tick" x="343.2" y="306.6" text-anchor="end">0</text>
<text class="tick" x="343.2" y="289.3" text-anchor="end">2</text>
<text class="tick" x="343.2" y="271.9" text-anchor="end">4</text>
<text class="tick" x="343.2" y="254.6" text-anchor="end">6</text>
<text class="tick" x="343.2" y="237.2" text-anchor="end">8</text>
<text class="tick" x="343.2" y="219.9" text-anchor="end">10</text>
<text class="tick" x="343.2" y="202.5" text-anchor="end">12</text>
<text class="tick" x="343.2" y="185.2" text-anchor="end">14</text>
<text class="tick" x="527.6" y="306.6">0</text>
<text class="tick" x="527.6" y="294.5">1</text>
<text class="tick" x="527.6" y="282.3">2</text>
<text class="tick" x="527.6" y="270.2">3</text>
<text class="tick" x="527.6" y="258.0">4</text>
<text class="tick" x="527.6" y="245.9">5</text>
<text class="tick" x="527.6" y="233.8">6</text>
<text class="tick" x="527.6" y="221.6">7</text>
<text class="tick" x="527.6" y="209.5">8</text>
<text class="tick" x="527.6" y="197.3">9</text>
<text class="tick" x="528.1" y="185.2">10</text>
<text class="ax" x="436" y="326" text-anchor="middle">Voltage (V)</text>
<text class="ax" transform="translate(327.8,240.2) rotate(-90)" text-anchor="middle">Efficiency (cd/A)</text>
<text class="ax" transform="translate(545.8,249.4) rotate(-90)" text-anchor="middle">EQE (%)</text>
<rect x="347.9" y="183.2" width="87.9" height="17" fill="#fff" stroke="#b4b4b4" stroke-width="0.8"/>
<line x1="349.6" y1="188.1" x2="363.6" y2="188.1" stroke="#111" stroke-width="1.3"/>
<line x1="349.6" y1="195.7" x2="363.6" y2="195.7" stroke="#e81313" stroke-width="1.3"/>
<text class="leg" x="365.7" y="190.4" textLength="67.2" lengthAdjust="spacingAndGlyphs">OLED on Vektron fabric</text>
<text class="leg" x="365.7" y="198" textLength="68" lengthAdjust="spacingAndGlyphs">OLED on Carnival fabric</text>
<ellipse cx="401.2" cy="228.7" rx="19.6" ry="14.9" fill="none" stroke="#666" stroke-width="0.7"/>
<ellipse cx="466.8" cy="265.9" rx="23.5" ry="14.3" fill="none" stroke="#666" stroke-width="0.7"/>
<path d="M384.8,219.8 L357,219.8" stroke="#444" stroke-width="0.7"/><polygon points="358.4,218.6 355.2,219.8 358.4,221" fill="#222"/>
<path d="M479.3,253.9 L516,253.9" stroke="#444" stroke-width="0.7"/><polygon points="514.6,252.7 517.8,253.9 514.6,255.1" fill="#222"/>
</g>

</svg>
</body>
</html>
